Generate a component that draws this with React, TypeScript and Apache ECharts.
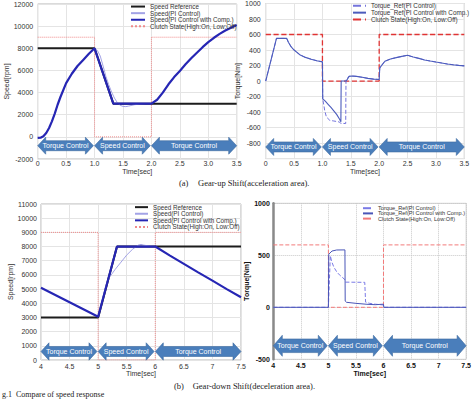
import React, { useEffect, useRef } from 'react';
import * as echarts from 'echarts';

// ---------- (a) Gear-up shift : speed ----------
const upRefT = [0, 1.0, 1.33, 3.5];
const upRefV = [8000, 8000, 3000, 3000];
const upPiT = [0, 0.05, 0.1, 0.15, 0.2, 0.25, 0.3, 0.35, 0.4, 0.5, 0.6, 0.7, 0.8, 0.9, 1.0,
  1.05, 1.1, 1.15, 1.2, 1.25, 1.3, 1.35, 1.4, 1.45, 1.5, 1.55, 1.6, 1.7, 1.8, 1.9, 2.0,
  2.1, 2.2, 2.3, 2.4, 2.5, 2.6, 2.7, 2.8, 2.9, 3.0, 3.1, 3.2, 3.3, 3.4, 3.5];
const upPiV = [-100, -80, 50, 350, 800, 1400, 2100, 2900, 3600, 4850, 5700, 6400, 6950, 7500, 8000,
  7800, 7300, 6400, 5450, 4700, 4050, 3500, 3100, 2850, 2750, 2730, 2780, 2900, 2970, 3000, 3000,
  3350, 4000, 4750, 5400, 5950, 6550, 7100, 7600, 8100, 8550, 8950, 9300, 9600, 9850, 10100];
const upCompT = [0, 0.05, 0.1, 0.15, 0.2, 0.25, 0.3, 0.35, 0.4, 0.5, 0.6, 0.7, 0.8, 0.9, 1.0,
  1.33, 2.0, 2.1, 2.2, 2.3, 2.4, 2.5, 2.6, 2.7, 2.8, 2.9, 3.0, 3.1, 3.2, 3.3, 3.4, 3.5];
const upCompV = [-100, -80, 50, 350, 800, 1400, 2100, 2900, 3600, 4850, 5700, 6400, 6950, 7500, 8000,
  3000, 3000, 3350, 4000, 4750, 5400, 5950, 6550, 7100, 7600, 8100, 8550, 8950, 9300, 9600, 9850, 10100];
const upClutchT = [0, 1.0, 1.0, 2.0, 2.0, 3.5];
const upClutchV = [9000, 9000, 0, 0, 9000, 9000];

// ---------- (a) Gear-up shift : torque ----------
const upTqCompT = [0, 0.19, 0.37, 0.4, 0.45, 0.5, 0.6, 0.7, 0.8, 0.9, 1.0,
  1.005, 1.05, 1.1, 1.15, 1.2, 1.25, 1.3, 1.325, 1.33,
  1.42, 1.47, 1.52, 1.6, 1.7, 1.8, 1.9, 2.0,
  2.01, 2.1, 2.2, 2.3, 2.4, 2.5, 2.6, 2.7, 2.8, 2.9, 3.0, 3.1, 3.2, 3.3, 3.4, 3.5];
const upTqCompV = [0, 550, 550, 500, 440, 400, 340, 305, 282, 262, 247,
  -230, -260, -300, -340, -385, -430, -490, -525, 0,
  0, 60, 65, 60, 48, 35, 25, 20,
  170, 255, 285, 302, 318, 332, 310, 292, 272, 258, 245, 233, 220, 210, 202, 196];
const upTqPiT = [0, 0.19, 0.37, 0.4, 0.45, 0.5, 0.6, 0.7, 0.8, 0.9, 1.0,
  1.005, 1.04, 1.07, 1.13, 1.2, 1.3, 1.32, 1.41, 1.415,
  1.47, 1.52, 1.6, 1.7, 1.8, 1.9, 2.0,
  2.01, 2.1, 2.2, 2.3, 2.4, 2.5, 2.6, 2.7, 2.8, 2.9, 3.0, 3.1, 3.2, 3.3, 3.4, 3.5];
const upTqPiV = [0, 550, 550, 500, 440, 400, 340, 305, 282, 262, 247,
  -230, -380, -464, -507, -515, -528, -545, -548, 20,
  60, 65, 60, 48, 35, 25, 20,
  170, 255, 285, 302, 318, 332, 310, 292, 272, 258, 245, 233, 220, 210, 202, 196];
const upTqClutchT = [0, 1.0, 1.0, 2.0, 2.0, 3.5];
const upTqClutchV = [600, 600, 0, 0, 600, 600];

// ---------- (b) Gear-down shift : speed ----------
const dnRefT = [4, 5, 5.33, 7.5];
const dnRefV = [3000, 3000, 8000, 8000];
const dnPiT = [4, 5, 5.05, 5.1, 5.15, 5.2, 5.3, 5.4, 5.5, 5.6, 5.7, 5.75, 5.8, 5.9, 6.0,
  6.25, 6.5, 6.75, 7.0, 7.25, 7.5];
const dnPiV = [5100, 3050, 3850, 4700, 5450, 5850, 6400, 6900, 7400, 7800, 8100, 8150, 8100, 8030, 8000,
  7380, 6780, 6180, 5600, 5000, 4420];
const dnCompT = [4, 5, 5.33, 6.0, 6.25, 6.5, 6.75, 7.0, 7.25, 7.5];
const dnCompV = [5100, 3050, 8000, 8000, 7380, 6780, 6180, 5600, 5000, 4420];
const dnClutchT = [4, 5, 5, 6, 6, 7.5];
const dnClutchV = [9000, 9000, 0, 0, 9000, 9000];

// ---------- (b) Gear-down shift : torque ----------
const dnTqPiT = [4, 5, 5.035, 5.06, 5.1, 5.15, 5.2, 5.25, 5.3, 5.31, 5.66, 5.675, 5.75, 5.85, 6.0, 6.005, 7.5];
const dnTqPiV = [0, 0, 496, 440, 385, 342, 312, 290, 265, 242, 240, 50, 38, 30, 22, 0, 0];
const dnTqCompT = [4, 5, 5.006, 5.065, 5.15, 5.3, 5.305, 5.33, 5.5, 5.7, 5.85, 6.0, 6.005, 7.5];
const dnTqCompV = [0, 0, 510, 541, 551, 552, 60, 48, 38, 29, 25, 30, 0, 0];
const dnTqClutchT = [4, 5, 5, 6, 6, 7.5];
const dnTqClutchV = [600, 600, 0, 0, 600, 600];

// ---------- control-phase arrows ----------
const phaseLabels = ['Torque Control', 'Speed Control', 'Torque Control'];
const upArrowStart = [0, 1.0, 2.0];
const upArrowEnd = [0.98, 1.98, 3.5];
const dnArrowStart = [4, 5.0, 6.0];
const dnArrowEnd = [4.98, 5.98, 7.5];
const arrowLevel = [-800, -850, 600, -370];

// ---------- names ----------
const speedNames = ['Speed Reference', 'Speed(PI Control)', 'Speed(PI Control with Comp.)', 'Clutch State(High:On, Low:Off)'];
const torqueNames = ['Torque_Ref(PI Control)', 'Torque_Ref(PI Control with Comp.)', 'Clutch State(High:On, Low:Off)'];

const FONT = '"Liberation Sans", Arial, sans-serif';
const SERIF = '"Liberation Serif", "Times New Roman", serif';

const pairs = (t: number[], v: number[]) => t.map((x, i) => [x, v[i]]);

function line(idx: number, name: string, t: number[], v: number[], ls: any, z = 2) {
  return {
    type: 'line', name: idx + ':' + name, xAxisIndex: idx, yAxisIndex: idx,
    data: pairs(t, v), symbol: 'none', showSymbol: false, lineStyle: ls, itemStyle: { color: ls.color },
    z, silent: true, clip: true,
  };
}

function arrows(idx: number, starts: number[], ends: number[], y: number, d: any) {
  return {
    type: 'custom', xAxisIndex: idx, yAxisIndex: idx, z: 6, silent: true, clip: false,
    data: starts.map((s, i) => [s, ends[i], y]),
    encode: { x: [0, 1], y: 2 },
    renderItem: (params: any, api: any) => {
      const p0 = api.coord([api.value(0), api.value(2)]);
      const p1 = api.coord([api.value(1), api.value(2)]);
      const a = p0[0], b = p1[0], c = p0[1];
      const { bh, hh, hl, fs } = d;
      const pts = [[a, c], [a + hl, c - hh], [a + hl, c - bh], [b - hl, c - bh], [b - hl, c - hh], [b, c],
        [b - hl, c + hh], [b - hl, c + bh], [a + hl, c + bh], [a + hl, c + hh]];
      return {
        type: 'group', children: [
          { type: 'polygon', shape: { points: pts }, style: { fill: '#4a7ebb', stroke: '#3d6aa0', lineWidth: 0.6 } },
          { type: 'text', x: (a + b) / 2, y: c, style: { text: phaseLabels[params.dataIndex], fill: '#ffffff', fontSize: fs, fontFamily: FONT, align: 'center', verticalAlign: 'middle' } },
        ],
      };
    },
  };
}

const lab = (extra: any = {}) => ({ fontSize: 7, color: '#333', fontFamily: FONT, ...extra });

const fmtA = (v: number) => (v === 0 ? '0' : v.toFixed(1));
const fmtB = (v: number) => String(v);

function xAx(idx: number, min: number, max: number, fmt: any, margin: number, nameGap: number, bold = false, dotted = false) {
  return {
    gridIndex: idx, type: 'value', min, max, interval: 0.5,
    axisLabel: { ...lab(bold ? { fontWeight: 'bold', color: '#111' } : {}), formatter: fmt, margin },
    axisLine: { show: false }, axisTick: { show: false },
    splitLine: { show: true, lineStyle: { color: dotted ? '#c8c8c8' : '#e4e4e4', width: 1, type: dotted ? 'dotted' : 'solid' } },
    name: 'Time[sec]', nameLocation: 'middle', nameGap,
    nameTextStyle: lab(bold ? { fontWeight: 'bold', color: '#111' } : {}),
  };
}

function yAx(idx: number, min: number, max: number, interval: number, name: string, margin: number, nameGap: number, opts: any = {}) {
  return {
    gridIndex: idx, type: 'value', min, max, interval,
    axisLabel: { ...lab(opts.bold ? { fontWeight: 'bold', color: '#111' } : {}), margin, formatter: fmtB, showMinLabel: opts.hideMin ? false : true },
    axisLine: opts.axisLine ? { show: true, lineStyle: { color: '#8a8a8a', width: 2.5 } } : { show: false },
    axisTick: { show: false },
    splitLine: { show: true, lineStyle: { color: opts.dotted ? '#c8c8c8' : '#e4e4e4', width: 1, type: opts.dotted ? 'dotted' : 'solid' } },
    name, nameLocation: 'middle', nameGap,
    nameTextStyle: lab(opts.bold ? { fontWeight: 'bold', color: '#111' } : {}),
  };
}

function legend(idx: number, names: string[], left: number, top: number, iw: number, gap: number, fs: number) {
  return {
    orient: 'vertical', left, top, padding: 0, itemWidth: iw, itemHeight: fs + 0.8, itemGap: gap,
    data: names.map((n) => idx + ':' + n), selectedMode: false,
    itemStyle: { opacity: 0 },
    formatter: (n: string) => n.slice(2),
    textStyle: { fontSize: fs, lineHeight: fs + 0.8, color: '#333', fontFamily: FONT },
  };
}

const option: any = {
  animation: false,
  textStyle: { fontFamily: FONT },
  grid: [
    { left: 37.7, top: 4, width: 199, height: 155, show: true, borderColor: '#b4b4b4', borderWidth: 1 },
    { left: 265.7, top: 2, width: 198.6, height: 156.6, show: true, borderColor: '#b4b4b4', borderWidth: 1 },
    { left: 41, top: 204, width: 200, height: 156, show: true, borderColor: '#b4b4b4', borderWidth: 1 },
    { left: 273.3, top: 203.3, width: 197.4, height: 156, show: true, borderColor: '#d0d0d0', borderWidth: 1 },
  ],
  xAxis: [
    xAx(0, 0, 3.5, fmtA, 1, 7.5),
    xAx(1, 0, 3.5, fmtA, 1.5, 7.5),
    xAx(2, 4, 7.5, fmtB, 2.5, 9),
    xAx(3, 4, 7.5, fmtB, 3, 8.5, true, true),
  ],
  yAxis: [
    yAx(0, -2000, 12000, 2000, 'Speed[rpm]', 4.5, 17),
    yAx(1, -1000, 1000, 200, 'Torque[Nm]', 5, 20.5, { hideMin: true }),
    yAx(2, 0, 11000, 1000, 'Speed[rpm]', 4, 17.5),
    yAx(3, -500, 1000, 500, 'Torque[Nm]', 3.5, 19, { bold: true, dotted: true, axisLine: true }),
  ],
  legend: [
    legend(0, speedNames, 130, 3, 14, -0.5, 6.3),
    legend(1, torqueNames, 352, 2.3, 13, -0.3, 6.3),
    legend(2, speedNames, 134, 203.6, 13, -0.5, 6.3),
    legend(3, torqueNames, 362, 205, 10, -1.2, 5.6),
  ],
  series: [
    // panel (a) speed
    line(0, speedNames[3], upClutchT, upClutchV, { color: '#f08a8a', width: 1, type: 'dotted' }, 1),
    line(0, speedNames[0], upRefT, upRefV, { color: '#1c1c1c', width: 2 }),
    line(0, speedNames[1], upPiT, upPiV, { color: '#a3a3e6', width: 1 }),
    line(0, speedNames[2], upCompT, upCompV, { color: '#2626b4', width: 2.2 }),
    arrows(0, upArrowStart, upArrowEnd, arrowLevel[0], { bh: 5, hh: 8.5, hl: 8, fs: 7 }),
    // panel (a) torque
    line(1, torqueNames[2], upTqClutchT, upTqClutchV, { color: '#e03434', width: 1.3, type: 'dashed' }, 1),
    line(1, torqueNames[0], upTqPiT, upTqPiV, { color: '#7474dc', width: 1, type: 'dashed' }),
    line(1, torqueNames[1], upTqCompT, upTqCompV, { color: '#4c5cbc', width: 1.1 }),
    arrows(1, upArrowStart, upArrowEnd, arrowLevel[1], { bh: 5, hh: 8.5, hl: 8, fs: 7 }),
    // panel (b) speed
    line(2, speedNames[3], dnClutchT, dnClutchV, { color: '#f08a8a', width: 1, type: 'dotted' }, 1),
    line(2, speedNames[0], dnRefT, dnRefV, { color: '#1c1c1c', width: 2 }),
    line(2, speedNames[1], dnPiT, dnPiV, { color: '#a3a3e6', width: 1 }),
    line(2, speedNames[2], dnCompT, dnCompV, { color: '#2626b4', width: 2.2 }),
    arrows(2, dnArrowStart, dnArrowEnd, arrowLevel[2], { bh: 5, hh: 8.7, hl: 8, fs: 7 }),
    // panel (b) torque
    line(3, torqueNames[2], dnTqClutchT, dnTqClutchV, { color: '#f27a7a', width: 1, type: 'dashed' }, 1),
    line(3, torqueNames[0], dnTqPiT, dnTqPiV, { color: '#7a7ae6', width: 1, type: 'dashed' }),
    line(3, torqueNames[1], dnTqCompT, dnTqCompV, { color: '#4a56b8', width: 1 }),
    arrows(3, dnArrowStart, dnArrowEnd, arrowLevel[3], { bh: 6.8, hh: 10.5, hl: 9, fs: 7 }),
  ],
  graphic: [
    { type: 'text', x: 179, y: 183, style: { text: '(a)', fontSize: 8.5, fontFamily: SERIF, fill: '#222', verticalAlign: 'middle' } },
    { type: 'text', x: 198, y: 183, style: { text: 'Gear-up Shift(acceleration area).', fontSize: 8.5, fontFamily: SERIF, fill: '#222', verticalAlign: 'middle' } },
    { type: 'text', x: 174, y: 386, style: { text: '(b)', fontSize: 8.5, fontFamily: SERIF, fill: '#222', verticalAlign: 'middle' } },
    { type: 'text', x: 192.7, y: 386, style: { text: 'Gear-down Shift(deceleration area).', fontSize: 8.5, fontFamily: SERIF, fill: '#222', verticalAlign: 'middle' } },
    { type: 'text', x: 2, y: 394.5, style: { text: 'g.1  Compare of speed response', fontSize: 8, fontFamily: SERIF, fill: '#222', verticalAlign: 'middle' } },
  ],
};

export default function App() {
  const ref = useRef<HTMLDivElement>(null);
  useEffect(() => {
    const chart = echarts.init(ref.current as HTMLDivElement, null, { renderer: 'svg' });
    chart.setOption(option);
    return () => chart.dispose();
  }, []);
  return <div ref={ref} style={{ position: 'absolute', left: 0, top: 0, width: 474, height: 399, background: '#fff' }} />;
}
